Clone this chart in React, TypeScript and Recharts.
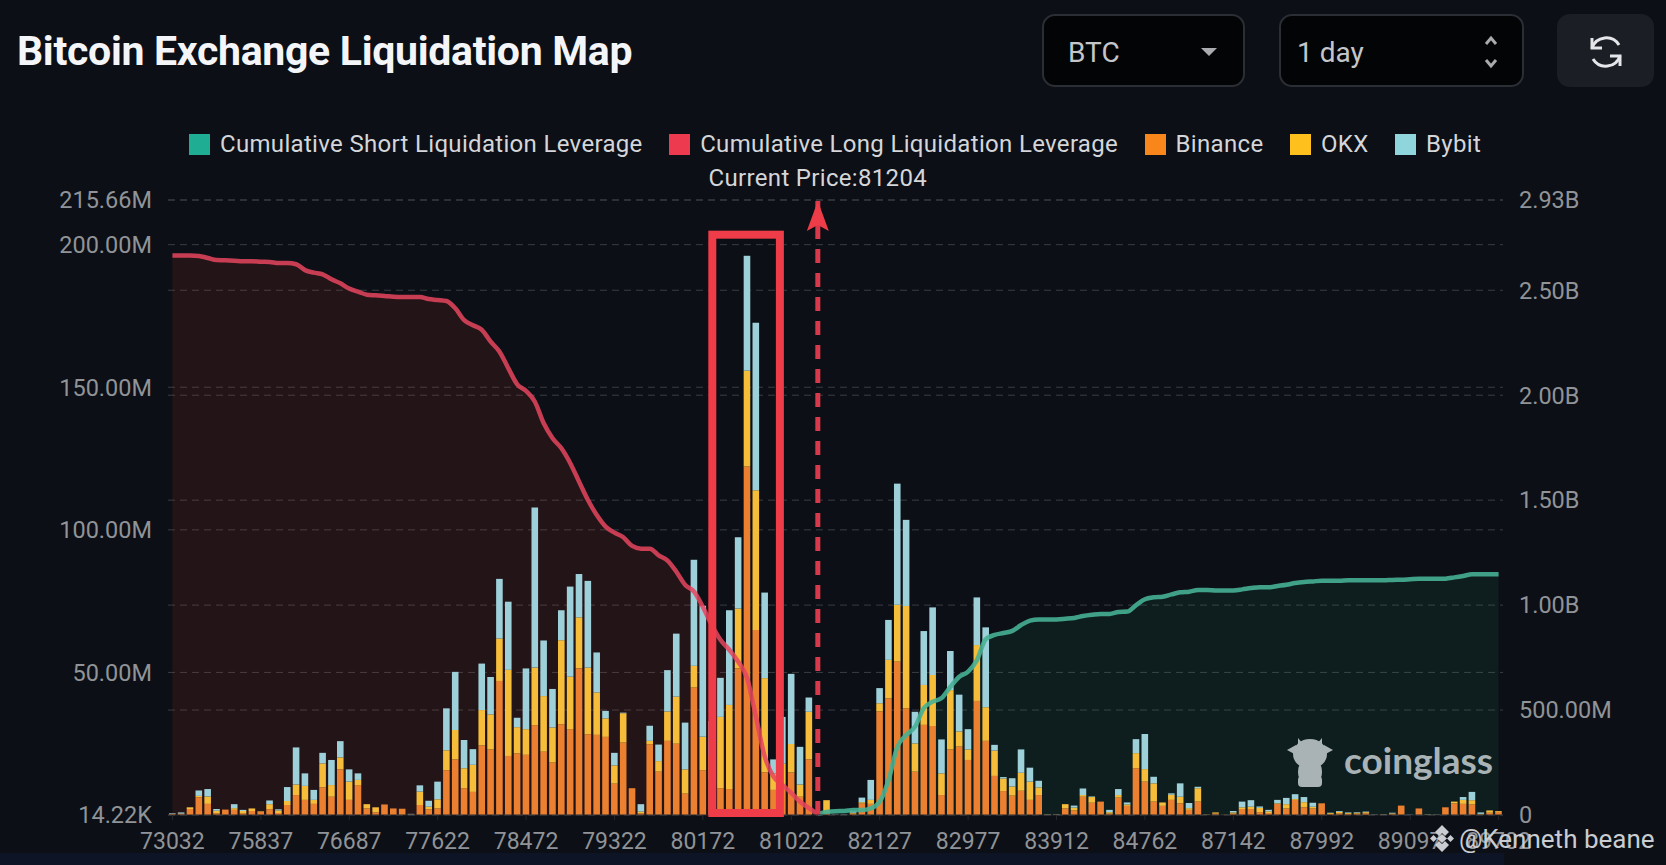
import React from 'react';
import {
  ComposedChart,
  Area,
  Bar,
  Line,
  XAxis,
  YAxis,
  CartesianGrid,
  ReferenceLine,
  ReferenceArea,
} from 'recharts';

// tick labels, one every 10 price buckets
const xTickLabels = [
  '73032', '75837', '76687', '77622', '78472', '79322', '80172', '81022',
  '82127', '82977', '83912', '84762', '87142', '87992', '89097', '89702',
];
const leftTicks = [0.01422, 50, 100, 150, 200, 215.66];
const leftTickLabels = ['14.22K', '50.00M', '100.00M', '150.00M', '200.00M', '215.66M'];
const rightTicks = [0, 0.5, 1, 1.5, 2, 2.5, 2.93];
const rightTickLabels = ['0', '500.00M', '1.00B', '1.50B', '2.00B', '2.50B', '2.93B'];

const currentPriceIndex = 73;
const highlightFrom = 61;
const highlightTo = 69;

// liquidation per bucket, millions
const binance = [
  0.3, 0.3, 2.1, 6.2, 3.9, 0.6, 1.9, 1.8, 0.5, 1.4,
  1.1, 2.0, 0.7, 3.5, 7.0, 5.3, 3.9, 9.7, 6.4, 16.0,
  5.3, 10.5, 2.3, 0.9, 3.7, 2.3, 2.2, 0.1, 3.5, 2.0,
  2.3, 15.7, 19.5, 9.4, 8.1, 24.4, 23.0, 47.0, 20.7, 21.6,
  21.1, 31.5, 22.2, 18.4, 31.8, 30.1, 51.5, 28.3, 28.1, 27.4,
  11.0, 25.4, 9.4, 0.6, 24.8, 15.2, 26.0, 25.0, 7.5, 44.7,
  15.7, 12.0, 9.4, 9.1, 51.4, 122.2, 64.9, 15.0, 8.8, 10.0,
  14.9, 6.4, 19.5, 0.1, 0.5, 0.1, 0.1, 0.5, 4.0, 3.9,
  36.3, 40.9, 53.8, 37.4, 15.2, 31.6, 31.2, 7.0, 23.0, 24.0,
  19.3, 40.0, 26.0, 13.7, 8.4, 6.8, 8.5, 5.3, 7.0, 0.1,
  0.1, 2.3, 1.6, 6.4, 4.3, 4.7, 0.5, 6.1, 3.2, 16.4,
  11.7, 4.7, 3.2, 5.3, 4.1, 1.8, 4.7, 0.1, 0.5, 0.1,
  0.5, 2.1, 2.1, 1.0, 0.7, 3.9, 2.3, 5.3, 2.7, 2.3,
  4.1, 0.4, 0.6, 0.4, 0.5, 0.6, 0.1, 0.1, 0.4, 3.3,
  0, 2.3, 0.1, 0.1, 2.7, 4.1, 3.9, 3.7, 0.2, 0.8,
  1.1,
];
const okx = [
  0.1, 0.2, 0.6, 0.5, 2.6, 0.9, 0, 0.6, 0.9, 0.9,
  0.2, 1.8, 0.9, 1.4, 3.7, 4.9, 1.4, 8.4, 4.1, 4.2,
  6.4, 1.8, 1.5, 1.8, 0, 0, 0, 0.1, 4.7, 0.9,
  3.2, 7.0, 10.3, 7.0, 9.5, 12.4, 12.3, 14.9, 30.2, 9.2,
  9.0, 20.2, 19.5, 12.3, 29.5, 18.4, 17.8, 23.4, 14.9, 6.5,
  6.4, 10.3, 0, 0.6, 1.2, 3.7, 10.3, 16.5, 8.5, 7.6,
  11.7, 9.0, 25.0, 29.5, 21.0, 33.6, 49.0, 33.0, 5.8, 8.0,
  10.0, 4.3, 16.7, 0, 4.7, 0, 0, 0.3, 0.5, 1.4,
  2.9, 13.5, 19.9, 35.9, 9.9, 14.0, 17.9, 7.6, 20.8, 5.3,
  3.7, 19.6, 11.8, 8.9, 4.4, 3.2, 6.3, 6.4, 2.7, 0.1,
  0.1, 1.5, 1.0, 0.6, 2.0, 0, 0.5, 0.9, 0.5, 5.3,
  4.4, 6.4, 1.2, 1.8, 2.3, 0.6, 4.7, 0.1, 0.4, 0,
  0.4, 0.6, 0.8, 1.5, 0.6, 0.2, 1.5, 0.3, 1.8, 0.6,
  0, 0.3, 0.5, 0.3, 0.3, 0.4, 0, 0.1, 0.2, 0,
  0, 0, 0.1, 0, 0, 0.6, 1.4, 1.5, 0.2, 0.8,
  0.3,
];
const bybit = [
  0.2, 0.4, 0, 1.9, 2.6, 0.6, 0, 1.4, 0.4, 0,
  0, 1.3, 0.4, 4.9, 13.0, 4.4, 3.5, 3.7, 8.8, 5.7,
  4.3, 2.3, 0, 0, 0, 0, 0, 0.2, 2.2, 2.1,
  6.2, 14.7, 20.4, 9.9, 5.5, 16.3, 13.1, 20.9, 23.9, 3.3,
  21.3, 56.1, 19.5, 13.5, 10.5, 31.6, 15.2, 30.4, 14.0, 2.6,
  4.4, 0.2, 0, 2.6, 5.3, 5.8, 14.5, 22.1, 16.4, 37.2,
  46.0, 12.0, 13.7, 33.2, 25.0, 40.3, 58.7, 30.0, 4.9, 16.4,
  24.6, 13.2, 5.0, 0.1, 0, 0.1, 0.1, 0.7, 1.6, 7.0,
  5.3, 14.0, 42.5, 30.2, 11.1, 18.9, 23.7, 11.9, 13.7, 12.9,
  7.1, 16.7, 28.0, 2.0, 0.5, 2.9, 8.2, 4.9, 2.3, 0.1,
  0.1, 0, 0.7, 2.3, 0.2, 0, 0.8, 2.1, 0.7, 4.9,
  12.3, 2.3, 0, 0.5, 4.7, 1.8, 0.5, 0, 0, 0,
  0.5, 2.0, 2.3, 0.5, 0.5, 1.2, 2.2, 1.7, 1.8, 1.4,
  0, 0.1, 0.3, 0.2, 0.2, 0.2, 0.1, 0.1, 0.2, 0,
  0.1, 0, 0.1, 0.1, 0, 0, 1.0, 2.9, 0.5, 0,
  0,
];

// cumulative leverage, billions (right axis)
const cumulativeLong = [
  2.665, 2.665, 2.665, 2.663, 2.654, 2.644, 2.643, 2.641, 2.638, 2.638,
  2.636, 2.635, 2.63, 2.63, 2.624, 2.596, 2.584, 2.576, 2.552, 2.533,
  2.508, 2.493, 2.479, 2.476, 2.473, 2.469, 2.468, 2.468, 2.468, 2.458,
  2.454, 2.449, 2.414, 2.358, 2.333, 2.311, 2.255, 2.207, 2.128, 2.052,
  2.02, 1.969, 1.866, 1.795, 1.747, 1.676, 1.588, 1.501, 1.429, 1.374,
  1.345, 1.323, 1.282, 1.269, 1.269, 1.237, 1.212, 1.159, 1.096, 1.064,
  0.991, 0.905, 0.834, 0.786, 0.73, 0.653, 0.468, 0.278, 0.182, 0.143,
  0.105, 0.063, 0.033, 0.005,
];
// starts at the current price bucket
const cumulativeShort = [
  0.005, 0.014, 0.018, 0.019, 0.024, 0.024, 0.032,
  0.063, 0.167, 0.325, 0.381, 0.421, 0.51, 0.54, 0.557, 0.611, 0.659,
  0.683, 0.738, 0.838, 0.858, 0.867, 0.877, 0.905, 0.926, 0.932, 0.932,
  0.932, 0.935, 0.939, 0.948, 0.954, 0.958, 0.958, 0.967, 0.969, 1.0,
  1.028, 1.037, 1.04, 1.051, 1.061, 1.064, 1.072, 1.072, 1.07, 1.069,
  1.07, 1.075, 1.081, 1.085, 1.085, 1.091, 1.097, 1.105, 1.11, 1.113,
  1.116, 1.116, 1.116, 1.118, 1.118, 1.118, 1.118, 1.118, 1.12, 1.121,
  1.123, 1.125, 1.125, 1.125, 1.126, 1.132, 1.139, 1.147, 1.147, 1.147,
  1.147,
];

const legendItems = [
  { name: 'Cumulative Short Liquidation Leverage', color: '#1fae93' },
  { name: 'Cumulative Long Liquidation Leverage', color: '#ee3a4e' },
  { name: 'Binance', color: '#f9861a' },
  { name: 'OKX', color: '#fdc01d' },
  { name: 'Bybit', color: '#8fd5dc' },
];

const chartData = binance.map((v, i) => ({
  idx: i,
  binance: v,
  okx: okx[i],
  bybit: bybit[i],
  long: i < cumulativeLong.length ? cumulativeLong[i] : null,
  short: i >= currentPriceIndex ? cumulativeShort[i - currentPriceIndex] : null,
}));

const FONT = 'Roboto, sans-serif';
const RED = '#ee3d48';

const ChartLegend = () => (
  <div
    style={{
      position: 'absolute', left: 189, top: 132, display: 'flex', fontFamily: FONT, fontSize: 24,
      letterSpacing: 0.32, color: '#d4d6d9', whiteSpace: 'nowrap', lineHeight: '24px',
    }}
  >
    {legendItems.map((item) => (
      <div key={item.name} style={{ display: 'flex', alignItems: 'center', marginRight: 26.5 }}>
        <span style={{ width: 21, height: 21, background: item.color, marginRight: 10, display: 'inline-block' }} />
        {item.name}
      </div>
    ))}
  </div>
);

const CurrentPriceMark = ({ viewBox }: any) => {
  const x = viewBox.x;
  const y = viewBox.y;
  return (
    <g>
      <polygon points={`${x},${y + 1} ${x + 11},${y + 31} ${x},${y + 25} ${x - 11},${y + 31}`} fill={RED} />
      <text x={x} y={y - 20} textAnchor="middle" dominantBaseline="middle" fill="#d4d6d9" fontSize={24} letterSpacing={0.32} fontFamily={FONT}>
        Current Price:81204
      </text>
    </g>
  );
};

const HighlightBox = ({ x, y, width, height }: any) => (
  <rect x={x + 5} y={y} width={width - 12} height={height} fill="none" stroke={RED} strokeWidth={8} />
);

const Select = ({ left, width, label, pad }: { left: number; width: number; label: string; pad: number }) => (
  <div
    style={{
      position: 'absolute', left, top: 14, width, height: 73, boxSizing: 'border-box',
      background: '#030406', border: '2px solid #2b2e34', borderRadius: 13,
      color: '#c4c6c9', fontFamily: FONT, fontSize: 28, lineHeight: '73px', paddingLeft: pad,
    }}
  >
    {label}
  </div>
);

export default function App() {
  return (
    <div style={{ position: 'absolute', left: 0, top: 0, width: 1666, height: 865, background: '#0c0f15', overflow: 'hidden' }}>
      <div style={{ position: 'absolute', left: 0, top: 853, width: 1504, height: 12, background: '#0c1425' }} />
      <div
        style={{
          position: 'absolute', left: 17, top: 26, fontFamily: FONT, fontWeight: 700, fontSize: 41,
          lineHeight: '50px', letterSpacing: -0.3, color: '#f4f5f8', whiteSpace: 'nowrap',
        }}
      >
        Bitcoin Exchange Liquidation Map
      </div>

      <Select left={1042} width={203} label="BTC" pad={24} />
      <Select left={1279} width={245} label="1 day" pad={16} />
      <div style={{ position: 'absolute', left: 1557, top: 14, width: 97, height: 73, background: '#1b1e25', borderRadius: 13 }} />
      <svg style={{ position: 'absolute', left: 0, top: 0 }} width={1666} height={865}>
        <polygon points="1201,48 1217,48 1209,56" fill="#a9abae" />
        <path d="M1486,44 L1491,38 L1496,44 M1486,60 L1491,66 L1496,60" fill="none" stroke="#a9abae" strokeWidth={3} />
        <g fill="none" stroke="#e4e6e9" strokeWidth={3}>
          <path d="M1592,48 A15,15 0 0 1 1619,45" />
          <path d="M1620,56 A15,15 0 0 1 1593,59" />
          <path d="M1592,38 L1592,48 L1602,48" />
          <path d="M1620,66 L1620,56 L1610,56" />
        </g>
      </svg>

      <ChartLegend />

      <div style={{ position: 'absolute', left: 0, top: 0 }}>
        <ComposedChart
          width={1666}
          height={865}
          data={chartData}
          margin={{ top: 200, right: 0, bottom: 0, left: 0 }}
          barSize={6.6}
        >
          <CartesianGrid yAxisId="left" vertical={false} stroke="#3a3d43" strokeDasharray="7 5" />
          <CartesianGrid yAxisId="right" vertical={false} stroke="#3a3d43" strokeDasharray="7 5" />
          <XAxis
            dataKey="idx"
            type="category"
            interval={9}
            height={50}
            axisLine={{ stroke: '#25282e' }}
            tickLine={{ stroke: '#25282e' }}
            tickSize={5}
            tickMargin={13}
            tick={{ fill: '#909397', fontSize: 23, fontFamily: FONT }}
            tickFormatter={(v: number) => xTickLabels[v / 10]}
          />
          <YAxis
            yAxisId="left"
            orientation="left"
            width={168}
            domain={[0, 215.66]}
            ticks={leftTicks}
            interval={0}
            axisLine={false}
            tickLine={false}
            tickMargin={10}
            tick={{ fill: '#909397', fontSize: 23.5, fontFamily: FONT }}
            tickFormatter={(v: number) => leftTickLabels[leftTicks.indexOf(v)]}
          />
          <YAxis
            yAxisId="right"
            orientation="right"
            width={163}
            domain={[0, 2.93]}
            ticks={rightTicks}
            interval={0}
            axisLine={false}
            tickLine={false}
            tickMargin={10}
            tick={{ fill: '#909397', fontSize: 23.5, fontFamily: FONT }}
            tickFormatter={(v: number) => rightTickLabels[rightTicks.indexOf(v)]}
          />
          <Area yAxisId="right" dataKey="long" type="monotone" stroke="none" fill="#e04038" fillOpacity={0.113} isAnimationActive={false} />
          <Area yAxisId="right" dataKey="short" type="monotone" stroke="none" fill="#1d8c68" fillOpacity={0.12} isAnimationActive={false} />
          <Bar yAxisId="left" dataKey="binance" stackId="ex" fill="#ea8030" isAnimationActive={false} />
          <Bar yAxisId="left" dataKey="okx" stackId="ex" fill="#f6bd3a" isAnimationActive={false} />
          <Bar yAxisId="left" dataKey="bybit" stackId="ex" fill="#9ed0d9" isAnimationActive={false} />
          <Line yAxisId="right" dataKey="long" type="monotone" stroke="#e6455e" strokeOpacity={0.85} strokeWidth={4.5} dot={false} isAnimationActive={false} />
          <Line yAxisId="right" dataKey="short" type="monotone" stroke="#46b093" strokeOpacity={0.9} strokeWidth={4.5} dot={false} isAnimationActive={false} />
          <ReferenceLine
            yAxisId="left"
            x={currentPriceIndex}
            stroke="#d83a4c"
            strokeWidth={5}
            strokeDasharray="14 10"
            label={<CurrentPriceMark />}
          />
          <ReferenceArea
            yAxisId="left"
            x1={highlightFrom}
            x2={highlightTo}
            y1={0.7}
            y2={203.5}
            shape={<HighlightBox />}
            ifOverflow="visible"
            isFront
            zIndex={2000}
          />
        </ComposedChart>
      </div>

      <svg style={{ position: 'absolute', left: 0, top: 0, pointerEvents: 'none' }} width={1666} height={865}>
        <g fill="#a9b3b5">
          <ellipse cx={1310} cy={754} rx={17} ry={15} />
          <polygon points="1287,750 1296,745 1300,757" />
          <polygon points="1333,750 1324,745 1320,757" />
          <polygon points="1298,738 1304,745 1298,748" />
          <polygon points="1322,738 1316,745 1322,748" />
          <ellipse cx={1310} cy={772} rx={12} ry={14} />
          <rect x={1298} y={776} width={24} height={11} rx={4} />
        </g>
        <g fill="#c9ccd0">
          <polygon points="1442,825 1449,832 1445,836 1442,833 1439,836 1435,832" />
          <polygon points="1442,852 1435,845 1439,841 1442,844 1445,841 1449,845" />
          <polygon points="1442,834 1447,838.5 1442,843 1437,838.5" />
          <polygon points="1430,838.5 1433.5,835 1437,838.5 1433.5,842" />
          <polygon points="1454,838.5 1450.5,835 1447,838.5 1450.5,842" />
        </g>
      </svg>
      <div style={{ position: 'absolute', left: 1344, top: 738, fontFamily: 'Lato, sans-serif', fontWeight: 700, fontSize: 37, lineHeight: '44px', color: '#a9b3b5' }}>
        coinglass
      </div>
      <div style={{ position: 'absolute', left: 1459, top: 824, fontFamily: FONT, fontSize: 26, lineHeight: '30px', color: '#c9ccd0', whiteSpace: 'nowrap' }}>
        @Kenneth beane
      </div>
    </div>
  );
}
